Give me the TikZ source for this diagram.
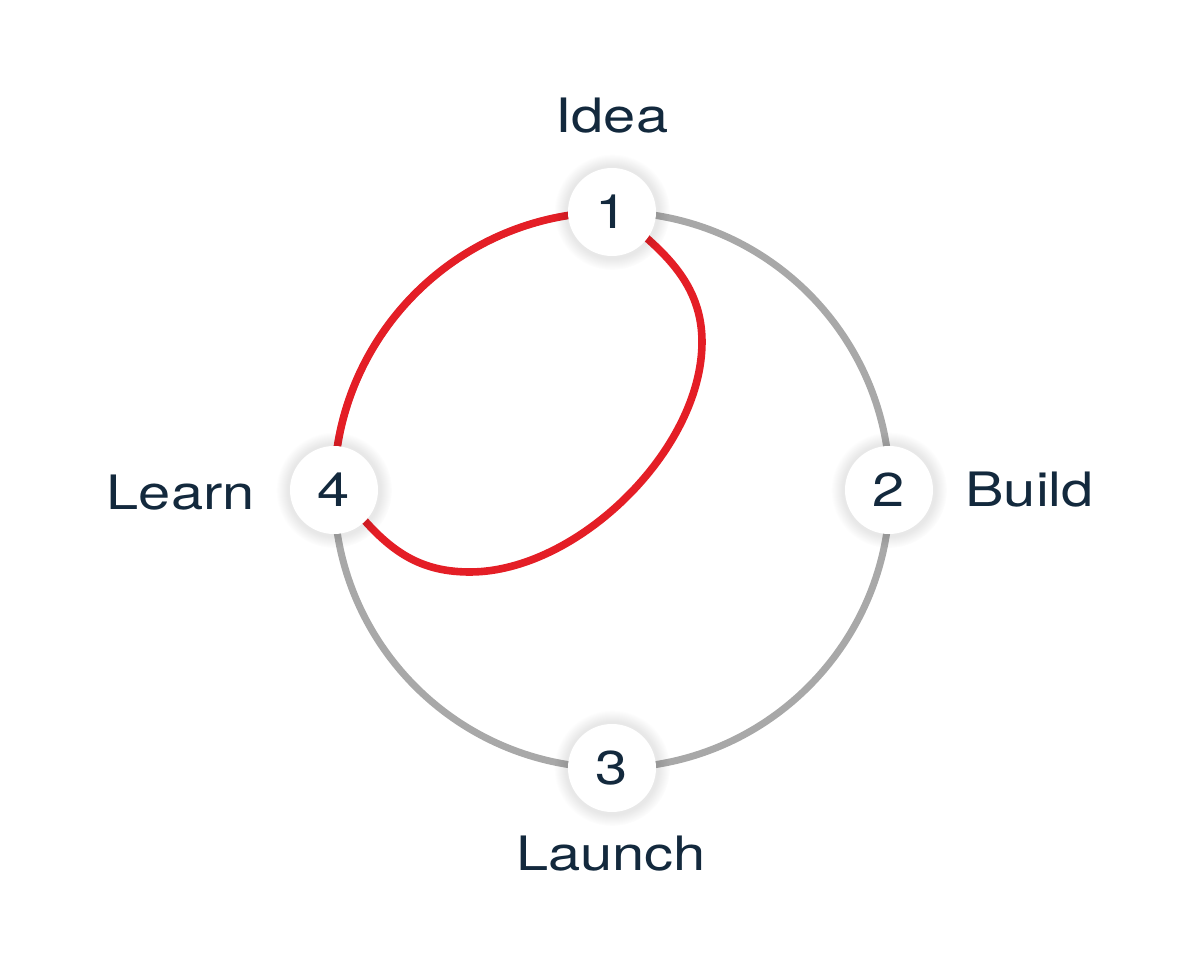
\documentclass[tikz,border=0pt]{standalone}
\usepackage{fontspec}
\setmainfont{TeX Gyre Heros}[FakeStretch=1.22]
\usepackage{tikz}
\usetikzlibrary{shadows,fadings,backgrounds}
\newcommand{\bigtxt}{\fontsize{23.7}{28}\selectfont}
\definecolor{ink}{HTML}{13293D}
\definecolor{loopred}{HTML}{E41E26}
\definecolor{ringgray}{HTML}{A8A8A8}

\begin{document}
\begin{tikzpicture}[x=0.5pt,y=0.5pt,
  ring/.style={draw=ringgray,line width=3.5pt},
  redloop/.style={draw=loopred,line width=3.8pt},
  stage/.style={circle,fill=white,minimum size=44pt,inner sep=0pt,text=ink,
    font=\bigtxt,circular glow={fill=black,opacity=0.09,shadow scale=1.32,
    path fading=circle with fuzzy edge 20 percent}},
  lbl/.style={text=ink,font=\bigtxt,inner sep=0pt}]
  \useasboundingbox (-612,-484) rectangle (588,490);
  \node[stage] (n1) at (0,278) {1};
  \node[stage] (n2) at (277,0) {2};
  \node[stage] (n3) at (0,-278) {3};
  \node[stage] (n4) at (-278,0) {4};
  \begin{scope}[on background layer]
    \draw[ring] (0,0) circle (278);
    \draw[redloop] (n1.center) arc(90:180:278);
    \draw[redloop] (n4.center) -- (n4.-45) to[out=-48,in=180] (-142,-82)
      .. controls (-35,-82) and (90,40) .. (90,148)
      .. controls (90,195) and (65,225) .. (n1.-37) -- (n1.center);
  \end{scope}
  \draw (0,357) node[lbl,anchor=base] {Idea};
  \draw (353,-17) node[lbl,anchor=base west] {Build};
  \draw (-1,-380) node[lbl,anchor=base] {Launch};
  \draw (-357,-20) node[lbl,anchor=base east] {Learn};
\end{tikzpicture}
\end{document}
